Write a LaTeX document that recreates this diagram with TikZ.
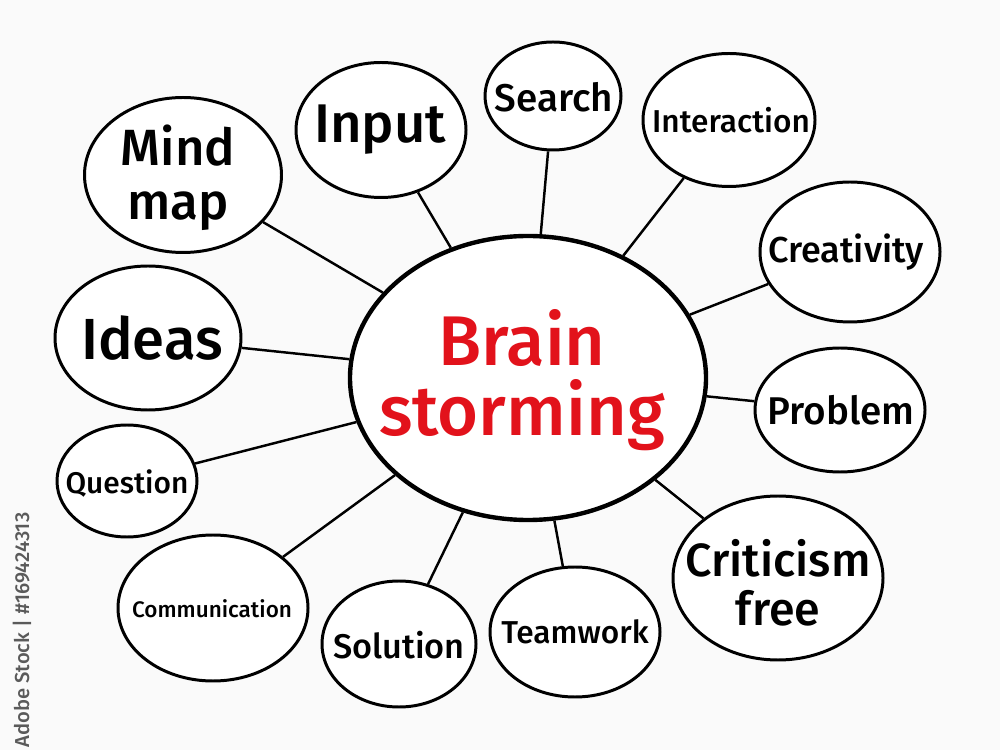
\documentclass[tikz,border=0pt]{standalone}
\usepackage{fontspec}
\setmainfont{Fira Sans}[UprightFont={* Medium}]
\usetikzlibrary{shapes.geometric}
\definecolor{StormRed}{HTML}{E2121B}
\definecolor{PaperGrey}{HTML}{FAFAFA}
\definecolor{StampGrey}{HTML}{5A5A5A}

\begin{document}
\begin{tikzpicture}[
	x=0.2mm, y=-0.2mm,
	bubble/.style={draw, ellipse, line width=1.7pt, inner sep=0pt, fill=white},
	hub/.style={bubble, line width=2.5pt},
	word/.style={align=center, inner sep=0pt},
	link/.style={line width=1.4pt}
]
\fill[PaperGrey] (0,0) rectangle (1000,750);

% bubbles
\node[hub, minimum width=71.2mm, minimum height=56.8mm] (brain) at (528,378) {};
\node[bubble, minimum width=39.4mm, minimum height=31mm] (mind) at (183,175) {};
\node[bubble, minimum width=34mm, minimum height=27mm] (input) at (381,130) {};
\node[bubble, minimum width=27.2mm, minimum height=21.6mm] (search) at (553,96) {};
\node[bubble, minimum width=34.4mm, minimum height=26.6mm] (interaction) at (729,120) {};
\node[bubble, minimum width=36mm, minimum height=28mm] (creativity) at (850,252) {};
\node[bubble, minimum width=34mm, minimum height=24.8mm] (problem) at (840,410) {};
\node[bubble, minimum width=42mm, minimum height=32.8mm] (criticism) at (778,578) {};
\node[bubble, minimum width=34mm, minimum height=26mm] (teamwork) at (575,632) {};
\node[bubble, minimum width=30.8mm, minimum height=25.2mm] (solution) at (399,644) {};
\node[bubble, minimum width=38mm, minimum height=29.2mm] (communication) at (213,608) {};
\node[bubble, minimum width=28mm, minimum height=22.4mm] (question) at (127,481) {};
\node[bubble, minimum width=37.2mm, minimum height=28.8mm] (ideas) at (148,338) {};

\foreach \leaf in {mind,input,search,interaction,creativity,problem,criticism,teamwork,solution,communication,question,ideas}
	\draw[link] (brain) -- (\leaf);

% labels
\node[word, text=StormRed, font=\fontsize{40}{40}\selectfont] (brain-t) at (522,380) {Brain\\storming};
\node[word, font=\fontsize{29}{31}\selectfont] (mind-t) at (178,178) {Mind\\map};
\node[word, font=\fontsize{31}{31}\selectfont] (input-t) at (380,130) {Input};
\node[word, font=\fontsize{22}{22}\selectfont] (search-t) at (554,97) {Search};
\node[word, font=\fontsize{18}{18}\selectfont] (interaction-t) at (731,120) {Interaction};
\node[word, font=\fontsize{20.5}{20.5}\selectfont] (creativity-t) at (846,252) {Creativity};
\node[word, font=\fontsize{22}{22}\selectfont] (problem-t) at (841,410) {Problem};
\node[word, font=\fontsize{26.5}{28}\selectfont] (criticism-t) at (778,583) {Criticism\\free};
\node[word, font=\fontsize{18}{18}\selectfont] (teamwork-t) at (575,632) {Teamwork};
\node[word, font=\fontsize{19.5}{19.5}\selectfont] (solution-t) at (399,645) {Solution};
\node[word, font=\fontsize{12.8}{12.8}\selectfont] (communication-t) at (212,609) {Communication};
\node[word, font=\fontsize{17}{17}\selectfont] (question-t) at (127,483) {Question};
\node[word, font=\fontsize{33}{33}\selectfont] (ideas-t) at (152,338) {Ideas};

% stock stamp on the left edge
\node[rotate=90, text=StampGrey, font=\fontsize{11.5}{11.5}\selectfont] (stamp) at (22,630) {Adobe Stock | \#169424313};
\end{tikzpicture}
\end{document}
